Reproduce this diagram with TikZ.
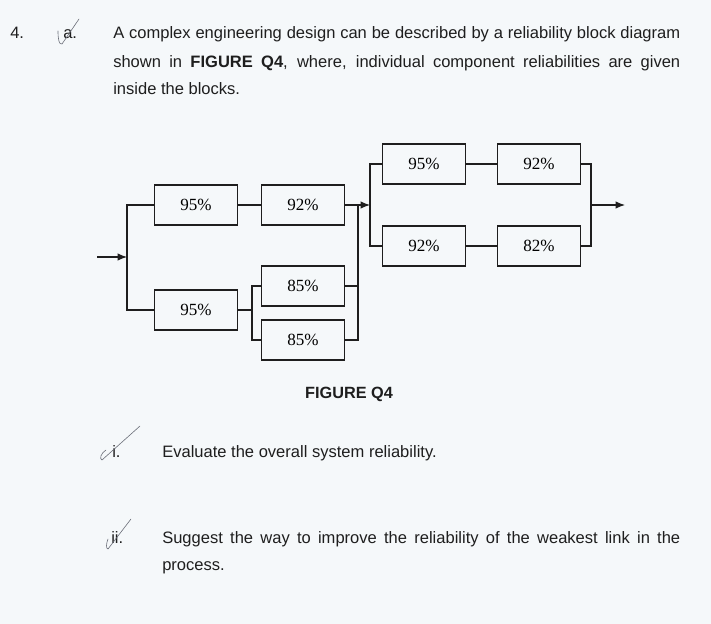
\documentclass[tikz,border=0pt]{standalone}
\usepackage{fontspec}
\usepackage{tikz}
\usetikzlibrary{arrows.meta}
\setmainfont{Liberation Sans}
\newfontfamily\blockfont{Liberation Serif}
\definecolor{paper}{HTML}{F5F8FA}
\definecolor{ink}{HTML}{1E1E1E}
\definecolor{pen}{HTML}{6A6E78}

\begin{document}
\begin{tikzpicture}[
  x=0.75pt, y=-0.75pt,
  box/.style={draw=ink, line width=0.8pt, minimum width=62.25pt, minimum height=30pt,
              inner sep=0pt, font=\blockfont\fontsize{12.8}{14}\selectfont},
  wire/.style={draw=ink, line width=0.8pt},
  arr/.style={wire, -{Latex[length=7pt, width=5.5pt]}},
  txt/.style={anchor=base west, inner sep=0pt, text=ink, font=\fontsize{12.4}{14}\selectfont},
  tick/.style={draw=pen, line width=0.45pt, line cap=round}
]
  \useasboundingbox[fill=paper] (0,0) rectangle (711,624);

  % Question text
  \node[txt] (num)   at (10,39)  {4.};
  \node[txt] (parta) at (63,39)  {a.};
  \node[txt] (q1)    at (113,39) {\makebox[425.25pt][s]{A complex engineering design can be described by a reliability block diagram}};
  \node[txt] (q2)    at (113,68) {\makebox[425.25pt][s]{shown in \textbf{FIGURE Q4}, where, individual component reliabilities are given}};
  \node[txt] (q3)    at (113,95) {inside the blocks.};

  % Blocks
  \node[box] (a1) at (196,205) {95\%};
  \node[box] (a2) at (303,205) {92\%};
  \node[box] (b1) at (196,310) {95\%};
  \node[box] (b2) at (303,286) {85\%};
  \node[box] (b3) at (303,340) {85\%};
  \node[box] (c1) at (424,164) {95\%};
  \node[box] (c2) at (539,164) {92\%};
  \node[box] (d1) at (424,246) {92\%};
  \node[box] (d2) at (539,246) {82\%};

  % Junctions
  \coordinate (inL)  at (97,257);
  \coordinate (sp1)  at (127,257);
  \coordinate (sp2)  at (252,310);
  \coordinate (mg1)  at (358,205);
  \coordinate (sp3)  at (370,205);
  \coordinate (mg2)  at (591,205);
  \coordinate (outR) at (625,205);

  \draw[arr]  (inL) -- (sp1);
  \draw[wire] (a1.west) -| (sp1) |- (b1.west);
  \draw[wire] (a1) -- (a2);
  \draw[wire] (b1) -- (sp2);
  \draw[wire] (b2.west) -| (sp2) |- (b3.west);
  \draw[wire] (a2) -- (mg1);
  \draw[wire] (b2.east) -| (mg1) |- (b3.east);
  \draw[arr]  (mg1) -- (sp3);
  \draw[wire] (c1.west) -| (sp3) |- (d1.west);
  \draw[wire] (c1) -- (c2);
  \draw[wire] (d1) -- (d2);
  \draw[wire] (c2.east) -| (mg2) |- (d2.east);
  \draw[arr]  (mg2) -- (outR);

  % Caption
  \node[txt, anchor=base, font=\bfseries\fontsize{12.2}{14}\selectfont] (cap) at (349,398) {FIGURE Q4};

  % Sub-questions
  \node[txt] (subi)  at (112,457) {i.};
  \node[txt] (evq)   at (162,457) {Evaluate the overall system reliability.};
  \node[txt] (subii) at (111,543) {ii.};
  \node[txt] (sg1)   at (162,543) {\makebox[388.5pt][s]{Suggest the way to improve the reliability of the weakest link in the}};
  \node[txt] (sg2)   at (162,570) {process.};

  % Marker ticks
  \draw[tick] (58,31) .. controls (58,39) and (59,45) .. (62,44) -- (79,19);
  \draw[tick] (106,450) .. controls (101,453) and (99,459) .. (102,460) -- (140,426);
  \draw[tick] (108,539) .. controls (106,544) and (106,549) .. (108,549) -- (131,519);
\end{tikzpicture}
\end{document}
